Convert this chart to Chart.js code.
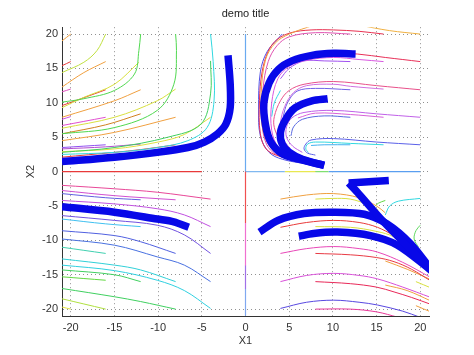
<!DOCTYPE html>
<html><head><meta charset="utf-8">
<script src="https://cdn.jsdelivr.net/npm/chart.js@4/dist/chart.umd.min.js"></script>
<style>html,body{margin:0;padding:0;background:#fff}</style>
</head><body>
<canvas id="c" width="474" height="355"></canvas>
<script>
const xTicks = [-20,-15,-10,-5,0,5,10,15,20];
const yTicks = [-20,-15,-10,-5,0,5,10,15,20];

// Thick highlighted trajectories
const thickPaths = [
  [[-2,16.9],[-1.75,12.7],[-1.75,9.3],[-2.25,6.9],[-3.2,5.5],[-4.7,4.3],[-6.6,3.5],[-10.1,2.8],[-15,2.1],[-21,1.45]],
  [[-6.5,-8.1],[-8.2,-7.3],[-10.1,-6.9],[-15,-5.9],[-21,-5.1]],
  [[12.6,17.1],[10.1,17.2],[7.6,16.9],[5.3,16.1],[3.8,14.9],[2.7,12.9],[2.1,10.0],[2.3,6.7],[2.9,4.3],[4.2,2.6],[6.1,1.8],[9.0,0.9]],
  [[9.4,10.6],[7.6,10.3],[5.7,9.3],[4.6,7.6],[4,5.7],[4.2,4.0],[5,2.8],[6.5,1.8],[9,0.9]],
  [[16.4,-1.3],[11.8,-1.65]],
  [[11.8,-1.65],[12.8,-3.0],[15.5,-6.9],[18.1,-10.3],[21.4,-14.6]],
  [[1.6,-8.8],[3.7,-7.1],[6.7,-6.1],[10.1,-5.9],[13.6,-6.2],[16.2,-7.6],[18.9,-10.5],[21.4,-14.5]],
  [[6.1,-9.4],[7.8,-9.0],[10.5,-8.8],[14.3,-9.3],[17.4,-10.7],[21.4,-14.5]]
];

const q1Paths = [
  [[20,20],[16.5,20.5],[13,21.3]],
  [[7.8,21.3],[5,20],[3.4,18.7],[2.3,16.3],[1.8,11.5],[1.9,6.7],[2.7,3.8],[4.2,2.1],[6.5,1.4],[9,0.9]],
  [[15.8,20],[13,20.4],[10.1,20.6],[7.5,20.6],[5.2,20.2],[3.6,19.2],[2.6,17.5],[1.9,14.5],[1.6,10.3],[1.7,5.5],[2.5,3.1],[4.8,1.9],[8,1.1]],
  [[4.2,20],[2.5,17.5],[1.7,14.5],[1.5,9.1],[1.7,5.2],[2.7,2.8],[4.2,1.8],[7,1.1]],
  [[12,20],[8,20.2],[5,19.6],[3.6,18.3],[2.6,16],[2.0,12],[1.9,7],[2.4,4],[3.5,2.5],[6,1.5]],
  [[20,16],[16,16.6],[12.8,17.1],[10,17.3]],
  [[15.8,16],[13,16.3],[10.1,16.6],[7,16.2],[5,15.3],[3.7,13.5],[3,10],[3,6],[3.8,3.5],[5.5,2.2],[8,1.3]],
  [[12,16],[9,16.1],[6.7,16.1],[5,15],[4,13.5]],
  [[4,11.8],[3.3,10],[3.0,8]],
  [[20,11.9],[15,12.5],[10.1,13.1],[6.7,12.7],[5,11.8],[4,10.3],[3.3,8],[3.3,6.4],[4,4.5],[5.2,3],[7,2]],
  [[15.8,12],[12,12.4],[10.1,12.7],[7,12.5],[5.5,11.5],[4.5,9.5],[4,7],[4.2,5],[5,3.5]],
  [[12,11.9],[8,12.1],[5.9,11.7],[4.8,10],[4.3,8]],
  [[20,7.9],[15,8.4],[10.1,8.9],[6.7,8.6],[5.3,7.8],[4.7,6.5],[4.7,5],[5.4,3.7],[6.5,2.8]],
  [[15.8,7.9],[12,8.3],[8,8.5],[6,7.8]],
  [[12,7.9],[9,8.1],[6.5,7.6],[5.5,6.5],[5.2,5.2]],
  [[20,3.9],[15,4.3],[10.1,4.8],[7.5,4.6],[6.9,4.0],[6.7,3.3],[7.1,2.7],[8,2.4]],
  [[15.8,3.9],[12,4.1],[8,4.3],[7.1,4.0],[6.9,3.3],[7.2,2.8]],
  [[12,3.9],[9,3.9],[7.5,3.8]]
];
const q1Colors = ['#f0b040','#f0a040','#e83050','#5050e8','#e050b0','#e83058','#d858e0','#a050f0','#30d8e8',
  '#e8508a','#d070e0','#7060e8','#c060e8','#d860d8','#5868e0','#5a60e8','#30d8e0','#40b0f0'];

const q2Paths = [
  [[-4,20],[-3.7,16],[-3.6,10.3],[-4.4,6.4],[-6.6,4.5],[-10.1,3.5],[-15,2.8],[-21,2.5]],
  [[-4,16.1],[-4,11.3],[-5.1,6.9],[-8.9,5.0],[-15,3.5],[-21,2.8]],
  [[-4,7.9],[-7,5.4],[-10,4.3],[-15,3.3],[-21,2.9]],
  [[-8,3.9],[-12,3.2],[-15,2.8],[-21,2.1]],
  [[-8,20],[-7.9,17.6],[-8.2,12.7],[-10.1,8.9],[-15,6.4],[-21,5.5]],
  [[-8,12],[-10.1,10.3],[-15,7.9],[-21,6.3]],
  [[-8,7.9],[-15,5.7],[-21,4.5]],
  [[-12,20],[-12.2,17.6],[-12.7,14.2],[-15,11.8],[-18.5,10.6],[-21,10.1]],
  [[-12.2,15.9],[-15,12.7],[-18.5,10.8],[-21,9.3]],
  [[-12,11.9],[-15,10.3],[-21,7.9]],
  [[-12,8.4],[-16,6.8],[-21,5.5]],
  [[-12,4],[-16,3.6],[-21,3.3]],
  [[-16,20],[-17,17.6],[-18.5,15.9],[-21,14.4]],
  [[-16,16],[-18.5,14.4],[-21,12.3]],
  [[-16,11.9],[-21,9.6]],
  [[-16,7.9],[-21,6.7]],
  [[-16,3.9],[-21,3.5]],
  [[-20,20],[-21,19]],
  [[-20,16],[-21,15.4]],
  [[-20,12],[-21,11.6]],
  [[-20,8],[-21,7.6]]
];
const q2Colors = ['#30d8e0','#40d060','#e0e040','#e83a3a','#50d850','#d8e040','#f0a040','#50d850','#d8e040',
  '#f0a040','#d08020','#b050d0','#c0e040','#f0a040','#e83a3a','#e050d0','#9050f0','#f0a040','#e83a3a','#e050c0','#d050e0'];

const q3Paths = [
  [[-4,-4],[-10.1,-3],[-15,-2.5],[-21,-2]],
  [[-4,-8],[-7,-6.3],[-10.1,-5.4],[-15,-4.7],[-21,-4.2]],
  [[-4,-11.9],[-7,-9.2],[-10.1,-7.8],[-15,-7.1],[-21,-6.4]],
  [[-4,-16],[-7,-13.6],[-10.1,-12.4],[-15,-10.7],[-21,-9.8]],
  [[-4,-19.9],[-7,-17.3],[-10.1,-15.8],[-15,-14.4],[-21,-13.6]],
  [[-8,-4.1],[-15,-3.5],[-21,-2.75]],
  [[-8,-11.9],[-12,-10.2],[-15,-9.3],[-21,-8.6]],
  [[-8,-16],[-12,-14.3],[-15,-13.6],[-21,-12.7]],
  [[-8,-20],[-12,-18.9],[-15,-18.2],[-21,-17]],
  [[-12,-4.1],[-16,-3.8],[-21,-3.2]],
  [[-12,-8],[-16,-7.6],[-21,-6.9]],
  [[-16,-11.9],[-21,-11]],
  [[-12,-16],[-15,-15],[-21,-14.3]],
  [[-16,-15.8],[-21,-15.3]],
  [[-16,-20],[-21,-18.5]],
  [[-20,-20],[-21,-19.7]]
];
const q3Colors = ['#e84898','#c050e0','#7050e0','#4870e0','#30d0e0','#d050d0','#5060e0','#30d0d8','#40d060',
  '#6060e0','#40c0f0','#40d0b0','#40d060','#60d840','#b0e040','#e0e040'];

const q4Paths = [
  [[4,-4],[7,-3.4],[10.1,-3.2],[13,-3.8],[15,-5],[16,-6]],
  [[8,-4],[10,-3.9],[12,-4],[14,-4.8],[15.2,-5.6]],
  [[14.6,-5.3],[15.2,-4.6],[16,-4.2]],
  [[20,-3.9],[17.5,-4.3],[16.5,-5],[16,-6.3]],
  [[20,-7.8],[19.5,-8.6],[19.3,-9.8],[19.8,-11]],
  [[4,-8.1],[7,-7.4],[10.1,-7.1],[13,-7.4],[15.1,-8.1],[17,-9.3]],
  [[8,-8],[12,-8.1],[15,-8.7],[17,-9.5],[19.8,-11.9]],
  [[4,-11.9],[7,-11.2],[10.1,-10.9],[13,-11.2],[15.1,-11.7],[18,-13.2],[21.2,-15.4]],
  [[8,-11.9],[12,-12.1],[15,-12.5],[17,-13.1],[19,-14.2],[21.2,-15.9]],
  [[4,-16],[7,-15.1],[10.1,-14.8],[13,-15.1],[15.1,-15.6],[18,-16.8],[21.2,-18.3]],
  [[8,-16],[12,-16.3],[15,-16.8],[17,-17.5],[19,-18.3],[21.2,-19.3]],
  [[4,-19.9],[7,-19],[10.1,-18.7],[13,-19],[15.1,-19.4],[18,-20.3],[20,-21.2]],
  [[8,-20],[12,-20],[15,-20.4],[17.5,-21.2]],
  [[16,-13],[18.5,-14.2],[21.2,-15.7]],
  [[16,-16.5],[18.5,-17.3],[21.2,-18.8]],
  [[19.5,-16],[21.2,-16.9]],
  [[19.5,-19.5],[21.2,-20.4]]
];
const q4Colors = ['#f0a040','#d8e040','#60d840','#30d8e0','#60d860','#e83a3a','#d8e040','#e848b8','#e83a44',
  '#d850d8','#e82858','#5848e0','#e83898','#f0a040','#f0a040','#d8e040','#f0a040'];

// trajectories lying on the coordinate axes
const axisPaths = [
  [[0,0],[0,20]],
  [[0,0],[0,-7.4]],
  [[0,-7.4],[0,-13.6]],
  [[0,-13.6],[0,-17]],
  [[0,-17],[0,-20.9]],
  [[-21,0],[-5,0]],
  [[0,0],[4.5,0]],
  [[4.5,0],[8,0]],
  [[8,0],[9.5,0]],
  [[9.5,0],[20,0]]
];
const axisColors = ['#6aaaf0','#f05050','#f070d0','#a070e8','#80a8f0','#e83a3a','#80b8f0','#e8e850','#80e070','#5a9ef0'];

function mk(path, color, width, tension) {
  return {
    data: path.map(p => ({x: p[0], y: p[1]})),
    borderColor: color, borderWidth: width, pointRadius: 0, pointHoverRadius: 0,
    tension: tension, fill: false, clip: 0, borderJoinStyle: 'round'
  };
}
const datasets = [];
thickPaths.forEach(p => datasets.push(mk(p, '#0808e8', 7.5, 0.3)));
axisPaths.forEach((p, i) => datasets.push(mk(p, axisColors[i], 1.2, 0)));
q1Paths.forEach((p, i) => datasets.push(mk(p, q1Colors[i], 1, 0.35)));
q2Paths.forEach((p, i) => datasets.push(mk(p, q2Colors[i], 1, 0.35)));
q3Paths.forEach((p, i) => datasets.push(mk(p, q3Colors[i], 1, 0.35)));
q4Paths.forEach((p, i) => datasets.push(mk(p, q4Colors[i], 1, 0.35)));

const FONT = 'Liberation Sans, Arial, sans-serif';
new Chart(document.getElementById('c'), {
  type: 'line',
  data: { datasets },
  options: {
    responsive: false, animation: false, events: [],
    layout: { padding: { top: 0, right: 45, bottom: 0, left: 0 } },
    plugins: {
      legend: { display: false }, tooltip: { enabled: false },
      title: { display: true, text: 'demo title', fullSize: false, color: '#222',
        font: { family: FONT, size: 11, weight: 'normal' }, padding: { top: 7, bottom: 7 } }
    },
    scales: {
      x: {
        type: 'linear', min: -21, max: 21,
        afterBuildTicks: a => { a.ticks = xTicks.map(v => ({ value: v })); },
        afterFit: a => { a.height = 39; },
        grid: { color: '#909090', drawTicks: false, lineWidth: 1 },
        border: { display: true, color: '#333', width: 1, dash: [1, 3] },
        ticks: { color: '#333', font: { family: FONT, size: 11 }, padding: 5, maxRotation: 0, autoSkip: false },
        title: { display: true, text: 'X1', color: '#333', font: { family: FONT, size: 11 }, padding: { top: 0, bottom: 7 } }
      },
      y: {
        type: 'linear', min: -21, max: 21,
        afterBuildTicks: a => { a.ticks = yTicks.map(v => ({ value: v })); },
        afterFit: a => { a.width = 62; },
        grid: { color: '#909090', drawTicks: false, lineWidth: 1 },
        border: { display: true, color: '#333', width: 1, dash: [1, 3] },
        ticks: { color: '#333', font: { family: FONT, size: 11 }, padding: 4, autoSkip: false },
        title: { display: true, text: 'X2', color: '#333', font: { family: FONT, size: 11 }, padding: { top: 24, bottom: 0 } }
      }
    }
  }
});
</script>
</body></html>
